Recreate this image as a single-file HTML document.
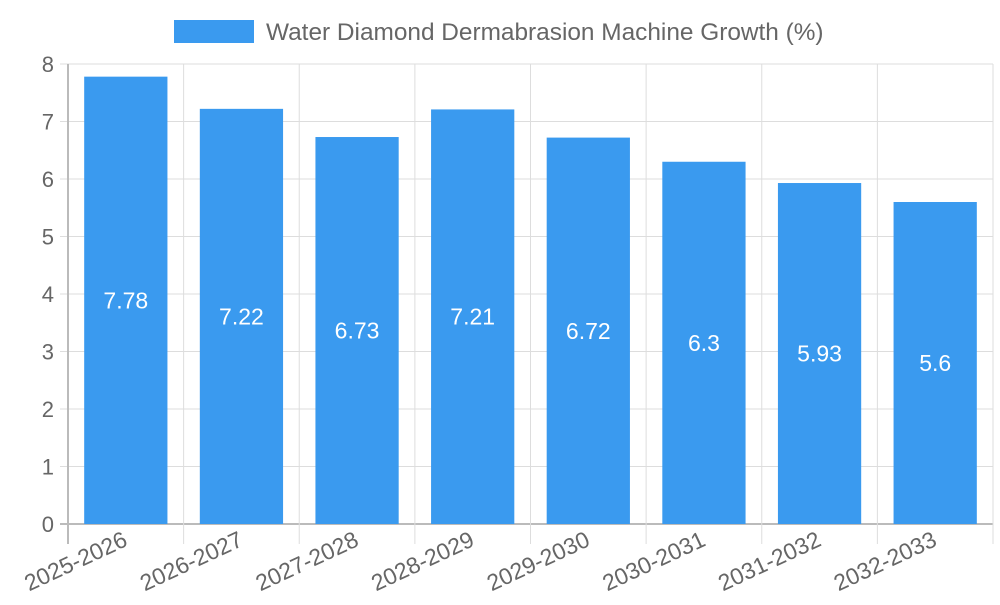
<!DOCTYPE html>
<html><head><meta charset="utf-8"><style>
body{margin:0;background:#fff;}
svg{font-family:"Liberation Sans",sans-serif;}
</style></head><body>
<svg id="c" width="1000" height="600">
<g>
<rect x="174" y="20" width="80" height="23" fill="#3a9aef"/>
<text x="266" y="40" font-size="24.4" fill="#666">Water Diamond Dermabrasion Machine Growth (%)</text>
</g>
<g id="grid"></g><g id="bars"></g><g id="labels"></g>
</svg>
<script>
const categories=["2025-2026","2026-2027","2027-2028","2028-2029","2029-2030","2030-2031","2031-2032","2032-2033"];
const values=[7.78,7.22,6.73,7.21,6.72,6.3,5.93,5.6];
const yTicks=[0,1,2,3,4,5,6,7,8];
const NS="http://www.w3.org/2000/svg";
const L=68,R=993,T=64,B=524,yMax=8;
const band=(R-L)/categories.length;
const y=v=>B-(v/yMax)*(B-T);
const xc=i=>L+band*(i+0.5);
function mk(tag,attrs,parent,text){const e=document.createElementNS(NS,tag);for(const k in attrs)e.setAttribute(k,attrs[k]);if(text!==undefined)e.textContent=text;document.getElementById(parent).appendChild(e);return e;}
yTicks.forEach(t=>{
 const g=mk('line',{x1:L-8,x2:R,y1:y(t),y2:y(t),stroke:t===0?'#bbb':'#ddd','stroke-width':t===0?2:1},'grid');
 
 
 const tx=mk('text',{x:L-14,y:y(t)+8,'text-anchor':'end','font-size':22,fill:'#666'},'grid',String(t));
 
 
});
for(let i=0;i<=categories.length;i++){
 const x=L+band*i;
 const g=mk('line',{x1:x,x2:x,y1:T,y2:B+20,stroke:i===0?'#bbb':'#ddd','stroke-width':i===0?2:1},'grid');
 
 
}
categories.forEach((c,i)=>{
 const bw=band*0.72;
 const r=mk('rect',{x:xc(i)-bw/2,y:y(values[i]),width:bw,height:B-y(values[i]),fill:'#3a9aef'},'bars');
 
 
 const v=mk('text',{x:xc(i),y:(y(values[i])+B)/2+8,'text-anchor':'middle','font-size':23,fill:'#fff'},'labels',String(values[i]));
 
 
 const lx=xc(i)+3,ly=B+21;
 const t=mk('text',{x:lx,y:ly,'text-anchor':'end','font-size':23,fill:'#666',transform:`rotate(-25 ${lx} ${ly})`},'labels',c);
 
 
});
</script>
</body></html>
